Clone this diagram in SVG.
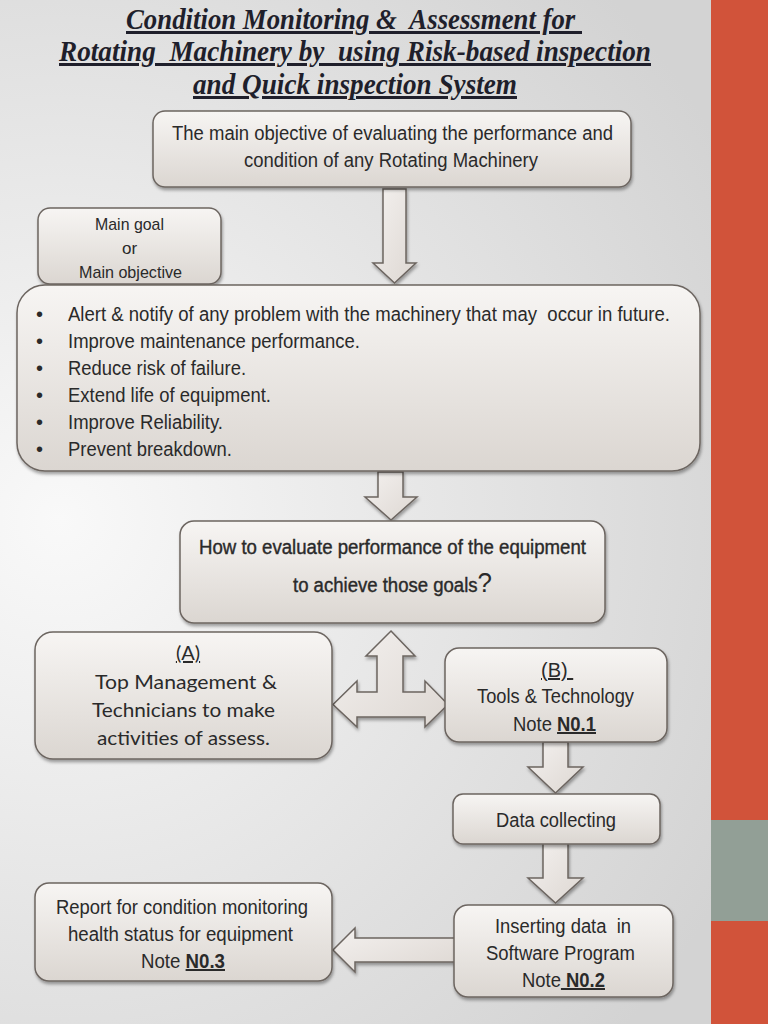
<svg xmlns="http://www.w3.org/2000/svg" width="768" height="1024" viewBox="0 0 768 1024">
<defs>
<radialGradient id="bg" cx="60" cy="520" r="760" gradientUnits="userSpaceOnUse">
<stop offset="0" stop-color="#f9f9f9"/>
<stop offset="1" stop-color="#d3d3d3"/>
</radialGradient>
<linearGradient id="boxg" x1="0" y1="0" x2="0" y2="1">
<stop offset="0" stop-color="#f7f5f3"/>
<stop offset="1" stop-color="#dbd6d1"/>
</linearGradient>
<linearGradient id="arrg" x1="0" y1="0" x2="1" y2="1">
<stop offset="0" stop-color="#f4f1ef"/>
<stop offset="1" stop-color="#ddd7d2"/>
</linearGradient>
<filter id="sh" x="-10%" y="-10%" width="125%" height="140%">
<feDropShadow dx="1" dy="2.5" stdDeviation="1.8" flood-color="#000" flood-opacity="0.35"/>
</filter>
</defs>
<style>
.box{fill:url(#boxg);stroke:#6c6560;stroke-width:1.5;filter:url(#sh)}
.arrow{fill:url(#arrg);stroke:#6c6560;stroke-width:1.5;stroke-linejoin:miter;filter:url(#sh)}
.t{font-family:"Liberation Sans",Arial,sans-serif;font-size:20px;fill:#2a2a2a;text-anchor:middle}
.s{text-anchor:start}
.c{font-family:Lato,"Open Sans",sans-serif;font-size:20px;fill:#2a2a2a;text-anchor:middle}
.b{font-weight:bold}
.u{text-decoration:underline}
.title{font-family:"Liberation Serif","DejaVu Serif",serif;font-weight:bold;font-style:italic;font-size:30px;fill:#1f1f2b;text-anchor:middle;text-decoration:underline}
</style>

<rect x="0" y="0" width="711" height="1024" fill="url(#bg)"/>
<rect x="711" y="0" width="57" height="1024" fill="#d1533a"/>
<rect x="711" y="820" width="57" height="101" fill="#929f96"/>

<g id="title">
<text class="title" x="354" y="29" textLength="456" lengthAdjust="spacingAndGlyphs" xml:space="preserve">Condition Monitoring &amp;  Assessment for </text>
<text class="title" x="355" y="61" textLength="592" lengthAdjust="spacingAndGlyphs" xml:space="preserve">Rotating  Machinery by  using Risk-based inspection</text>
<text class="title" x="355" y="94" textLength="324" lengthAdjust="spacingAndGlyphs">and Quick inspection System</text>
</g>

<g id="connectors">
<polygon class="arrow" points="383,189 406,189 406,263 416,263 394.5,283 373,263 383,263"/>
<polygon class="arrow" points="378,472 403,472 403,497 417,497 391,520 365,497 378,497"/>
<polygon class="arrow" points="391,631 415,656 403,656 403,692 425,692 425,681 448,704.5 425,727 425,717 357,717 357,727 333,704.5 357,681 357,692 377,692 377,656 366,656"/>
<polygon class="arrow" points="543,742 568,742 568,767 583,767 555.5,793 528,767 543,767"/>
<polygon class="arrow" points="543,843 568,843 568,878 583,878 555.5,903 528,878 543,878"/>
<polygon class="arrow" points="456,938 355,938 355,928 333,950 355,972 355,962 456,962"/>
</g>

<g id="node-objective">
<rect class="box" x="153" y="111" width="478" height="76" rx="12"/>
<text class="t" x="392.5" y="140" textLength="441" lengthAdjust="spacingAndGlyphs">The main objective of evaluating the performance and</text>
<text class="t" x="391" y="167" textLength="294" lengthAdjust="spacingAndGlyphs">condition of any Rotating Machinery</text>
</g>

<g id="node-main-goal">
<rect class="box" x="38" y="208" width="183" height="76" rx="12"/>
<text class="t" x="129.5" y="230" style="font-size:17px" textLength="69" lengthAdjust="spacingAndGlyphs">Main goal</text>
<text class="t" x="129.5" y="254" style="font-size:17px">or</text>
<text class="t" x="130.5" y="278" style="font-size:17px" textLength="103" lengthAdjust="spacingAndGlyphs">Main objective</text>
</g>

<g id="node-goals">
<rect class="box" x="17" y="285" width="683" height="186" rx="28"/>
<text class="t s" x="36" y="321">•</text>
<text class="t s" x="36" y="348">•</text>
<text class="t s" x="36" y="375">•</text>
<text class="t s" x="36" y="402">•</text>
<text class="t s" x="36" y="429">•</text>
<text class="t s" x="36" y="456">•</text>
<text class="t s" x="68" y="321" textLength="602" lengthAdjust="spacingAndGlyphs" xml:space="preserve">Alert &amp; notify of any problem with the machinery that may  occur in future.</text>
<text class="t s" x="68" y="348" textLength="292" lengthAdjust="spacingAndGlyphs">Improve maintenance performance.</text>
<text class="t s" x="68" y="375" textLength="178" lengthAdjust="spacingAndGlyphs">Reduce risk of failure.</text>
<text class="t s" x="68" y="402" textLength="203" lengthAdjust="spacingAndGlyphs">Extend life of equipment.</text>
<text class="t s" x="68" y="429" textLength="155" lengthAdjust="spacingAndGlyphs">Improve Reliability.</text>
<text class="t s" x="68" y="456" textLength="164" lengthAdjust="spacingAndGlyphs">Prevent breakdown.</text>
</g>

<g id="node-how">
<rect class="box" x="180" y="521" width="425" height="102" rx="14"/>
<text class="t" x="392.5" y="554" textLength="387" lengthAdjust="spacingAndGlyphs" style="stroke:#2a2a2a;stroke-width:0.4">How to evaluate performance of the equipment</text>
<text class="t s" x="293" y="592" textLength="199" lengthAdjust="spacingAndGlyphs" style="stroke:#2a2a2a;stroke-width:0.4">to achieve those goals<tspan style="font-size:28px;stroke-width:0">?</tspan></text>
</g>

<g id="node-a">
<rect class="box" x="35" y="632" width="297" height="127" rx="18"/>
<text class="c u" x="188" y="660">(A)</text>
<text class="c" x="186" y="689" textLength="182" lengthAdjust="spacingAndGlyphs">Top Management &amp;</text>
<text class="c" x="183.5" y="717" textLength="183" lengthAdjust="spacingAndGlyphs">Technicians to make</text>
<text class="c" x="183.5" y="745" textLength="173" lengthAdjust="spacingAndGlyphs">activities of assess.</text>
</g>

<g id="node-b">
<rect class="box" x="445" y="648" width="222" height="94" rx="14"/>
<text class="t s u" x="541" y="677" xml:space="preserve">(B) </text>
<text class="t" x="555.5" y="703" textLength="157" lengthAdjust="spacingAndGlyphs">Tools &amp; Technology</text>
<text class="t s" x="513" y="731" textLength="83" lengthAdjust="spacingAndGlyphs">Note <tspan class="b u">N0.1</tspan></text>
</g>

<g id="node-data">
<rect class="box" x="453" y="794" width="207" height="50" rx="10"/>
<text class="t" x="556" y="827" textLength="120" lengthAdjust="spacingAndGlyphs">Data collecting</text>
</g>

<g id="node-insert">
<rect class="box" x="454" y="905" width="219" height="92" rx="14"/>
<text class="t" x="563" y="933" textLength="136" lengthAdjust="spacingAndGlyphs" xml:space="preserve">Inserting data  in</text>
<text class="t" x="560.5" y="960" textLength="149" lengthAdjust="spacingAndGlyphs">Software Program</text>
<text class="t s" x="522" y="987" textLength="83" lengthAdjust="spacingAndGlyphs">Note<tspan class="b u" xml:space="preserve"> N0.2</tspan></text>
</g>

<g id="node-report">
<rect class="box" x="35" y="883" width="297" height="98" rx="14"/>
<text class="t" x="182" y="914" textLength="252" lengthAdjust="spacingAndGlyphs">Report for condition monitoring</text>
<text class="t" x="180.5" y="941" textLength="225" lengthAdjust="spacingAndGlyphs">health status for equipment</text>
<text class="t s" x="141" y="968" textLength="84" lengthAdjust="spacingAndGlyphs">Note <tspan class="b u">N0.3</tspan></text>
</g>
</svg>
